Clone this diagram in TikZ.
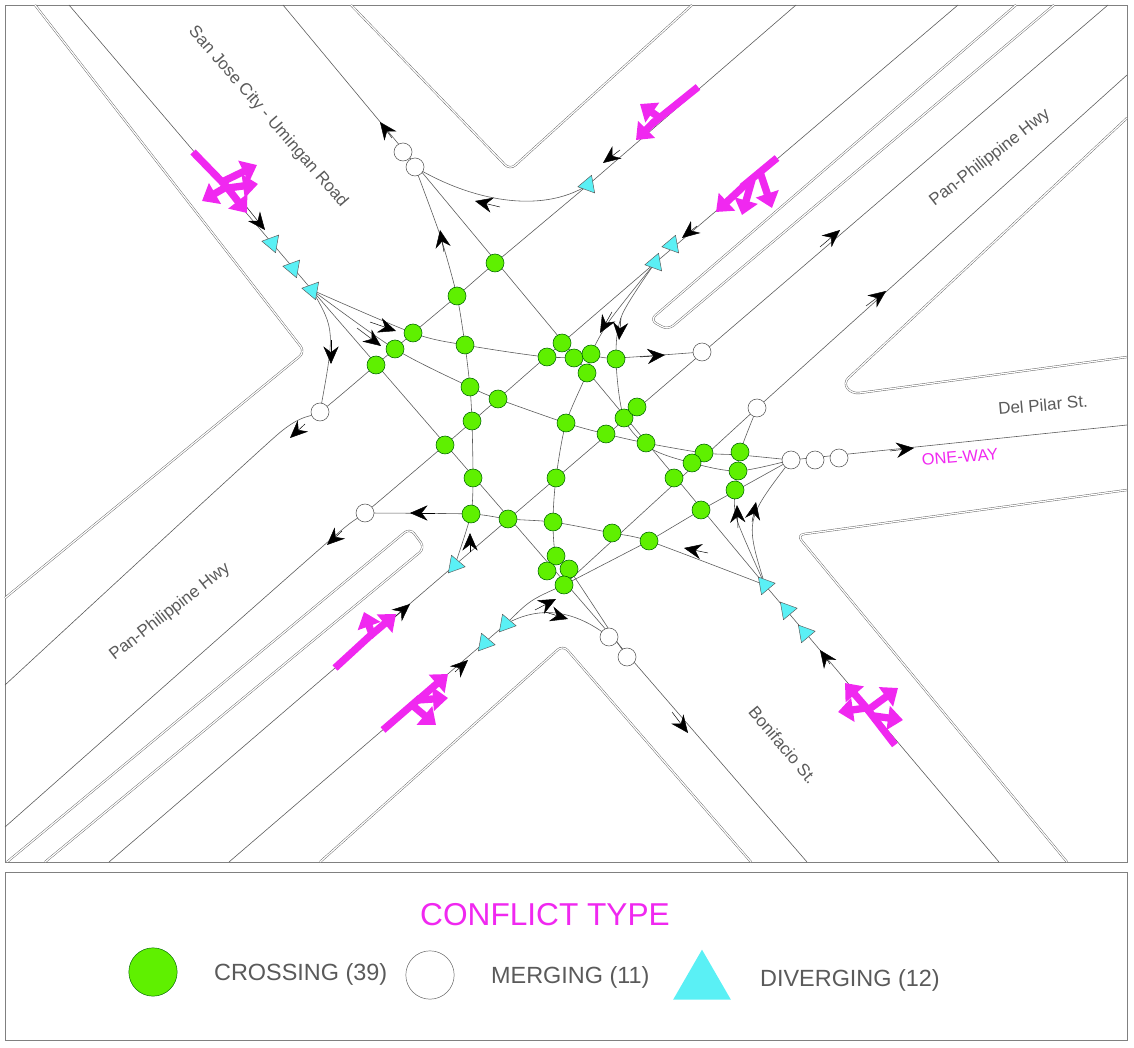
\documentclass[tikz,border=0pt]{standalone}
\usepackage{fontspec}
\setmainfont{Liberation Sans}
\usetikzlibrary{arrows.meta,shapes.geometric}
\definecolor{mag}{RGB}{240,40,240}
\definecolor{grn}{RGB}{95,240,0}
\definecolor{cyn}{RGB}{90,240,245}
\definecolor{ln}{RGB}{90,90,90}
\begin{document}
\begin{tikzpicture}[x=0.03cm,y=-0.03cm,
  road/.style={draw=ln,line width=0.5pt},
  curb/.style={draw=ln,line width=0.35pt,double=white,double distance=1.1pt,rounded corners=6pt},
  cross/.style={circle,draw=green!40!black,fill=grn,minimum size=0.54cm,inner sep=0pt,line width=0.5pt},
  merge/.style={circle,draw=ln,fill=white,minimum size=0.54cm,inner sep=0pt,line width=0.5pt},
  div/.style={regular polygon,regular polygon sides=3,draw=ln,fill=cyn,minimum size=0.62cm,inner sep=0pt,line width=0.4pt},
  tip/.style={-{Stealth[length=15pt,width=13pt,inset=5pt]},line width=0.4pt,draw=black},
  mg/.style={draw=mag,line width=2.2mm,-{Triangle[length=4.5mm,width=7mm]}},
  mgl/.style={draw=mag,line width=2.2mm},
  lbl/.style={text=ln,font=\fontsize{14.5}{17}\selectfont}]
\useasboundingbox (0,0) rectangle (1134,1048);
\draw[draw=gray,line width=0.5pt] (5,5) rectangle (1127,862);
\draw[draw=gray,line width=0.5pt] (5,872) rectangle (1127,1040);
% curbs
\draw[curb] (35,5) -- (305,352) -- (5,598);
\draw[curb] (351,5) -- (510,170) -- (692,5);
\draw[curb] (1016,5) -- (650,320) -- (668,330) -- (1054,5);
\draw[curb] (1127,118) -- (843,383) -- (852,394) -- (1127,357);
\draw[curb] (1067,862) -- (797,535) -- (1127,490);
\draw[curb] (320,862) -- (563,645) -- (751,862);
\draw[curb] (7,862) -- (410,528) -- (425,548) -- (45,862);
% movement paths
\draw[road] (69,5) -- (312,290);
\draw[road] (312,290) .. controls (335,330) .. (320,412);
\draw[road] (312,290) -- (807,862);
\draw[road] plot[smooth,tension=0.5] coordinates {(312,290) (413,333) (465,345) (547,357) (591,356) (616,358) (702,352)};
\draw[road] plot[smooth,tension=0.5] coordinates {(312,290) (395,349) (470,387) (498,399) (566,423) (606,434) (646,443) (704,453) (740,455) (791,460)};
\draw[road] (796,5) -- (588,185);
\draw[road] (588,185) .. controls (540,215) and (470,200) .. (415,167);
\draw[road] plot[smooth,tension=0.3] coordinates {(588,185) (495,263) (457,296) (413,333) (376,365) (320,412) (277,435) (5,685)};
\draw[road] (958,5) -- (655,263);
\draw[road] plot[smooth,tension=0.3] coordinates {(655,263) (562,343) (498,399) (445,445) (365,513) (330,540) (5,827)};
\draw[road] plot[smooth,tension=0.5] coordinates {(655,263) (610,320) (591,354) (587,373) (566,423) (556,478) (553,522) (556,556) (569,569) (627,657)};
\draw[road] plot[smooth,tension=0.5] coordinates {(655,263) (622,315) (616,359) (624,418) (650,448) (692,463) (738,471) (791,460)};
\draw[road] (109,862) -- (455,565) -- (1108,5);
\draw[road] plot[smooth,tension=0.4] coordinates {(455,565) (471,514) (473,478) (472,421) (470,387) (465,345) (457,296) (440,235) (415,167)};
\draw[road] (229,862) -- (506,624);
\draw[road] (506,624) .. controls (540,605) and (575,610) .. (609,637);
\draw[road] (506,624) .. controls (530,600) .. (564,585) -- (757,408) -- (1127,75);
\draw[road] (564,585) -- (649,541) -- (701,510) -- (791,460);
\draw[road] (999,862) -- (765,585) -- (283,5);
\draw[road] plot[smooth,tension=0.4] coordinates {(765,585) (649,541) (612,533) (553,522) (508,519) (471,514) (365,513)};
\draw[road] plot[smooth,tension=0.5] coordinates {(765,585) (737,520) (735,490) (738,471) (740,452) (757,408)};
\draw[road] (765,585) .. controls (745,520) .. (791,460);
\draw[road] (791,460) -- (1127,425);
% arrowheads
\draw[tip] (245,205) -- (265,230);
\draw[tip] (331,340) -- (331,364);
\draw[tip] (370,322) -- (396,331);
\draw[tip] (357,328) -- (381,346);
\draw[tip] (672,712) -- (688,733);
\draw[tip] (392,138) -- (380,122);
\draw[tip] (620,150) -- (603,163);
\draw[tip] (500,207) -- (475,201);
\draw[tip] (305,424) -- (290,438);
\draw[tip] (697,226) -- (682,238);
\draw[tip] (612,312) -- (600,333);
\draw[tip] (621,318) -- (619,340);
\draw[tip] (342,531) -- (327,545);
\draw[tip] (820,247) -- (840,230);
\draw[tip] (866,306) -- (886,291);
\draw[tip] (640,357) -- (665,355);
\draw[tip] (395,617) -- (410,604);
\draw[tip] (470,552) -- (470,533);
\draw[tip] (444,252) -- (440,230);
\draw[tip] (455,672) -- (468,660);
\draw[tip] (535,610) -- (556,599);
\draw[tip] (545,612) -- (568,619);
\draw[tip] (830,664) -- (820,650);
\draw[tip] (708,553) -- (684,548);
\draw[tip] (435,513) -- (410,513);
\draw[tip] (738,528) -- (737,505);
\draw[tip] (752,522) -- (756,502);
\draw[tip] (890,451) -- (914,448);
% crossing points
\foreach \x/\y [count=\i] in {495/263,457/296,413/333,395/349,376/365,465/345,547/357,562/343,574/358,591/354,616/359,587/373,470/387,498/399,472/421,566/423,445/445,606/434,624/418,637/407,646/443,704/453,692/463,740/452,738/471,735/490,674/478,701/510,473/478,556/478,471/514,508/519,553/522,612/533,649/541,556/556,547/571,569/569,564/585}
  \node[cross] (c\i) at (\x,\y) {};
% merging points
\foreach \x/\y [count=\i] in {403/152,415/167,702/352,757/408,320/412,365/513,791/460,815/460,839/458,609/637,627/657}
  \node[merge] (m\i) at (\x,\y) {};
% diverging points
\foreach \x/\y/\a [count=\i] in {272/243/-40,293/268/-40,312/290/-40,588/185/-140,672/245/-140,655/263/-140,455/565/140,485/643/140,506/624/140,765/585/40,787/610/40,805/633/40}
  \node[div,rotate=\a] (t\i) at (\x,\y) {};
% magenta lane arrows
\draw[mgl] (193,152) -- (228,188);
\draw[mg] (226,186) -- (247,213);
\draw[mg] (222,182) -- (257,165);
\draw[mg] (228,188) -- (258,184);
\draw[mg] (228,186) -- (202,201);
\draw[mgl] (698,87) -- (652,124);
\draw[mg] (655,121) -- (636,140);
\draw[mg] (660,118) -- (640,104);
\draw[mgl] (777,158) -- (742,187);
\draw[mg] (745,185) -- (716,212);
\draw[mg] (752,180) -- (742,215);
\draw[mg] (760,172) -- (772,208);
\draw[mgl] (335,668) -- (372,634);
\draw[mg] (370,636) -- (396,614);
\draw[mg] (372,634) -- (364,612);
\draw[mgl] (383,730) -- (420,698);
\draw[mg] (418,700) -- (448,674);
\draw[mg] (418,700) -- (448,698);
\draw[mg] (412,705) -- (436,725);
\draw[mgl] (895,745) -- (868,710);
\draw[mg] (870,712) -- (845,683);
\draw[mg] (868,710) -- (898,688);
\draw[mg] (866,708) -- (838,712);
\draw[mg] (874,716) -- (903,720);
% labels
\node[lbl,rotate=-49] at (268,117) {San Jose City - Umingan Road};
\node[lbl,rotate=38] at (990,158) {Pan-Philippine Hwy};
\node[lbl,rotate=38] at (170,612) {Pan-Philippine Hwy};
\node[lbl,rotate=5] at (1043,405) {Del Pilar St.};
\node[lbl,rotate=-50] at (783,745) {Bonifacio St.};
\node[text=mag,font=\fontsize{14}{16}\selectfont,rotate=5] at (960,457) {ONE-WAY};
% legend
\node[text=mag,font=\fontsize{27}{31}\selectfont] (lt) at (545,915) {CONFLICT TYPE};
\node[circle,draw=green!40!black,fill=grn,minimum size=1.45cm,inner sep=0pt] (lc) at (153,972) {};
\node[text=ln,font=\fontsize{20}{24}\selectfont,anchor=west] (lct) at (210,974) {CROSSING (39)};
\node[circle,draw=ln,fill=white,minimum size=1.45cm,inner sep=0pt] (lm) at (430,975) {};
\node[text=ln,font=\fontsize{20}{24}\selectfont,anchor=west] (lmt) at (487,977) {MERGING (11)};
\node[regular polygon,regular polygon sides=3,fill=cyn,minimum size=2.0cm,inner sep=0pt] (ld) at (702,983) {};
\node[text=ln,font=\fontsize{20}{24}\selectfont,anchor=west] (ldt) at (756,980) {DIVERGING (12)};
\end{tikzpicture}
\end{document}
